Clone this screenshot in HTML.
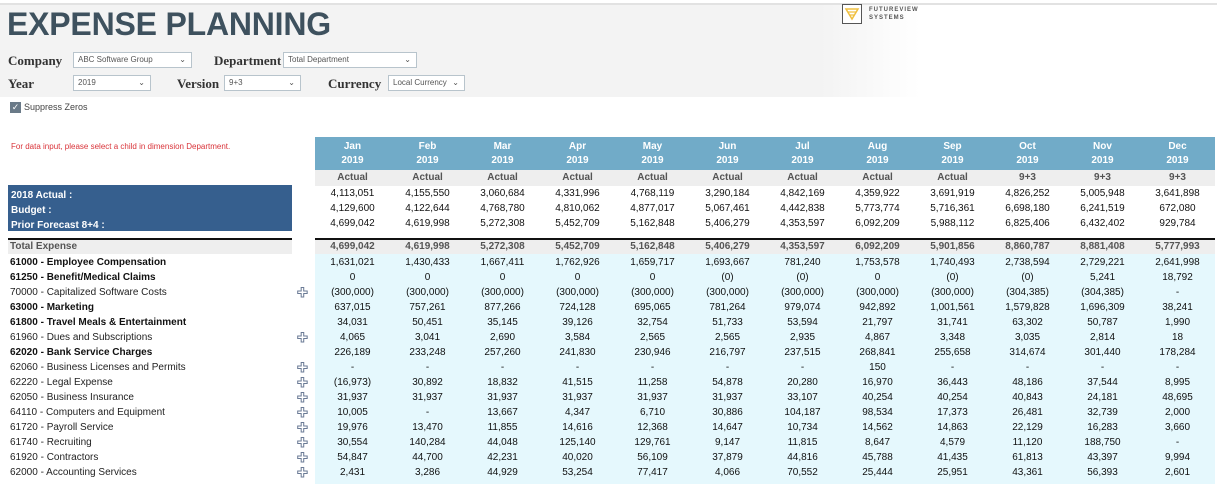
<!DOCTYPE html>
<html><head><meta charset="utf-8">
<style>
body{margin:0;width:1217px;height:484px;overflow:hidden;background:#fff;font-family:"Liberation Sans",sans-serif;position:relative}
.a{position:absolute;white-space:nowrap}
.hdr{left:0;top:3px;width:1217px;height:92px;background:linear-gradient(90deg,#f3f3f3 0,#f3f3f3 820px,#fff 920px);border-top:2px solid #e2e2e2}
.title{left:7px;top:6px;font-size:32px;font-weight:bold;color:#3e515e;letter-spacing:-0.2px}
.lbl{font-family:"Liberation Serif",serif;font-weight:bold;font-size:13px;color:#333}
.sel{height:16px;border:1px solid #b8c4cc;background:#fff;font-size:8px;color:#555;line-height:14px;padding-left:4px;box-sizing:border-box}
.sel span{position:absolute;right:5px;top:0;font-size:8px}
.cell{font-size:10px;color:#111;text-align:center;width:75px}
.rl{font-size:10px;color:#222;left:10px}
</style></head><body>
<div class="a hdr"></div>
<div class="a title">EXPENSE PLANNING</div>
<div class="a" style="left:842px;top:4px;width:20px;height:20px;border:1px solid #555;box-sizing:border-box;background:#fff">
<svg width="18" height="18" viewBox="0 0 18 18"><path d="M3 4h12l-6 10z" fill="none" stroke="#f0c040" stroke-width="1.5"/><path d="M5 7h8M6 10h5" stroke="#f0c040" stroke-width="1.2"/></svg></div>
<div class="a" style="left:869px;top:6px;font-size:6px;letter-spacing:1px;color:#555;line-height:8px;font-weight:bold">FUTUREVIEW<br>SYSTEMS</div>

<div class="a lbl" style="left:8px;top:53px">Company</div>
<div class="a sel" style="left:73px;top:52px;width:119px">ABC Software Group<span>⌄</span></div>
<div class="a lbl" style="left:214px;top:53px">Department</div>
<div class="a sel" style="left:283px;top:52px;width:134px">Total Department<span>⌄</span></div>
<div class="a lbl" style="left:8px;top:76px">Year</div>
<div class="a sel" style="left:73px;top:75px;width:78px">2019<span>⌄</span></div>
<div class="a lbl" style="left:177px;top:76px">Version</div>
<div class="a sel" style="left:224px;top:75px;width:77px">9+3<span>⌄</span></div>
<div class="a lbl" style="left:328px;top:76px">Currency</div>
<div class="a sel" style="left:388px;top:75px;width:77px">Local Currency<span>⌄</span></div>

<div class="a" style="left:10px;top:102px;width:11px;height:11px;background:#6a7a88;color:#fff;font-size:9px;line-height:11px;text-align:center">✓</div>
<div class="a" style="left:24px;top:102px;font-size:9px;color:#444">Suppress Zeros</div>
<div class="a" style="left:11px;top:142px;font-size:8px;color:#d9343a">For data input, please select a child in dimension Department.</div>

<div class="a" style="left:315px;top:137px;width:900px;height:33px;background:#71abc8"></div>
<div class="a" style="left:315px;top:170px;width:900px;height:16px;background:#eeeeee"></div>
<div class="a" style="left:8px;top:185px;width:284px;height:46px;background:#365f8e"></div>
<div class="a" style="left:11px;top:188px;font-size:10px;font-weight:bold;color:#fff;line-height:15px">2018 Actual :<br>Budget :<br>Prior Forecast 8+4 :</div>
<div class="a" style="left:8px;top:238px;width:284px;height:16px;background:#eee;border-top:2px solid #111;box-sizing:border-box"></div>
<div class="a" style="left:315px;top:238px;width:900px;height:16px;background:#eee;border-top:2px solid #111;box-sizing:border-box"></div>
<div class="a" style="left:315px;top:254px;width:900px;height:230px;background:#e5f8fd"></div>
<div class="a rl" style="top:241px;color:#555;font-weight:bold">Total Expense</div>
<div id="grid"></div>
<script>
const months=["Jan","Feb","Mar","Apr","May","Jun","Jul","Aug","Sep","Oct","Nov","Dec"];
const versions=["Actual","Actual","Actual","Actual","Actual","Actual","Actual","Actual","Actual","9+3","9+3","9+3"];
const actual2018=["4,113,051","4,155,550","3,060,684","4,331,996","4,768,119","3,290,184","4,842,169","4,359,922","3,691,919","4,826,252","5,005,948","3,641,898"];
const budget=["4,129,600","4,122,644","4,768,780","4,810,062","4,877,017","5,067,461","4,442,838","5,773,774","5,716,361","6,698,180","6,241,519","672,080"];
const prior=["4,699,042","4,619,998","5,272,308","5,452,709","5,162,848","5,406,279","4,353,597","6,092,209","5,988,112","6,825,406","6,432,402","929,784"];
const total=["4,699,042","4,619,998","5,272,308","5,452,709","5,162,848","5,406,279","4,353,597","6,092,209","5,901,856","8,860,787","8,881,408","5,777,993"];
const accounts=["61000 - Employee Compensation","61250 - Benefit/Medical Claims","70000 - Capitalized Software Costs","63000 - Marketing","61800 - Travel Meals & Entertainment","61960 - Dues and Subscriptions","62020 - Bank Service Charges","62060 - Business Licenses and Permits","62220 - Legal Expense","62050 - Business Insurance","64110 - Computers and Equipment","61720 - Payroll Service","61740 - Recruiting","61920 - Contractors","62000 - Accounting Services"];
const boldRows=[1,1,0,1,1,0,1,0,0,0,0,0,0,0,0];
const values=[
["1,631,021","1,430,433","1,667,411","1,762,926","1,659,717","1,693,667","781,240","1,753,578","1,740,493","2,738,594","2,729,221","2,641,998"],
["0","0","0","0","0","(0)","(0)","0","(0)","(0)","5,241","18,792"],
["(300,000)","(300,000)","(300,000)","(300,000)","(300,000)","(300,000)","(300,000)","(300,000)","(300,000)","(304,385)","(304,385)","-"],
["637,015","757,261","877,266","724,128","695,065","781,264","979,074","942,892","1,001,561","1,579,828","1,696,309","38,241"],
["34,031","50,451","35,145","39,126","32,754","51,733","53,594","21,797","31,741","63,302","50,787","1,990"],
["4,065","3,041","2,690","3,584","2,565","2,565","2,935","4,867","3,348","3,035","2,814","18"],
["226,189","233,248","257,260","241,830","230,946","216,797","237,515","268,841","255,658","314,674","301,440","178,284"],
["-","-","-","-","-","-","-","150","-","-","-","-"],
["(16,973)","30,892","18,832","41,515","11,258","54,878","20,280","16,970","36,443","48,186","37,544","8,995"],
["31,937","31,937","31,937","31,937","31,937","31,937","33,107","40,254","40,254","40,843","24,181","48,695"],
["10,005","-","13,667","4,347","6,710","30,886","104,187","98,534","17,373","26,481","32,739","2,000"],
["19,976","13,470","11,855","14,616","12,368","14,647","10,734","14,562","14,863","22,129","16,283","3,660"],
["30,554","140,284","44,048","125,140","129,761","9,147","11,815","8,647","4,579","11,120","188,750","-"],
["54,847","44,700","42,231","40,020","56,109","37,879","44,816","45,788","41,435","61,813","43,397","9,994"],
["2,431","3,286","44,929","53,254","77,417","4,066","70,552","25,444","25,951","43,361","56,393","2,601"]];
const g=document.getElementById('grid');
const colX=i=>315+i*75;
const rowY=r=>257+r*15;
function mk(cls,x,y,txt,css){const d=document.createElement('div');d.className='a '+cls;d.style.left=x+'px';d.style.top=y+'px';d.textContent=txt;if(css)d.style.cssText+=css;g.appendChild(d);return d;}
months.forEach((m,i)=>{
 const h=mk('cell',colX(i),140,m+"\n2019","white-space:pre;color:#fff;font-weight:bold;line-height:14px");
 
 
 const v=mk('cell',colX(i),172,versions[i],"color:#555;font-weight:bold");
 
 
 [actual2018,budget,prior].forEach((arr,k)=>{const c=mk('cell',colX(i),188+k*15,arr[i]);
  
  });
 const t=mk('cell',colX(i),241,total[i],"font-weight:bold;color:#555");
 
 
});
accounts.forEach((a,r)=>{
 const l=mk('rl',10,rowY(r),a,boldRows[r]?"font-weight:bold;color:#111":"");
 
 
 if(!boldRows[r]){const p=mk('',297,rowY(r)-2,'✚',"font-size:13px;color:#fff;-webkit-text-stroke:1px #6a7a95");
  
  }
 values[r].forEach((v,i)=>{const c=mk('cell',colX(i),rowY(r),v);
  
  });
});
</script>
</body></html>
